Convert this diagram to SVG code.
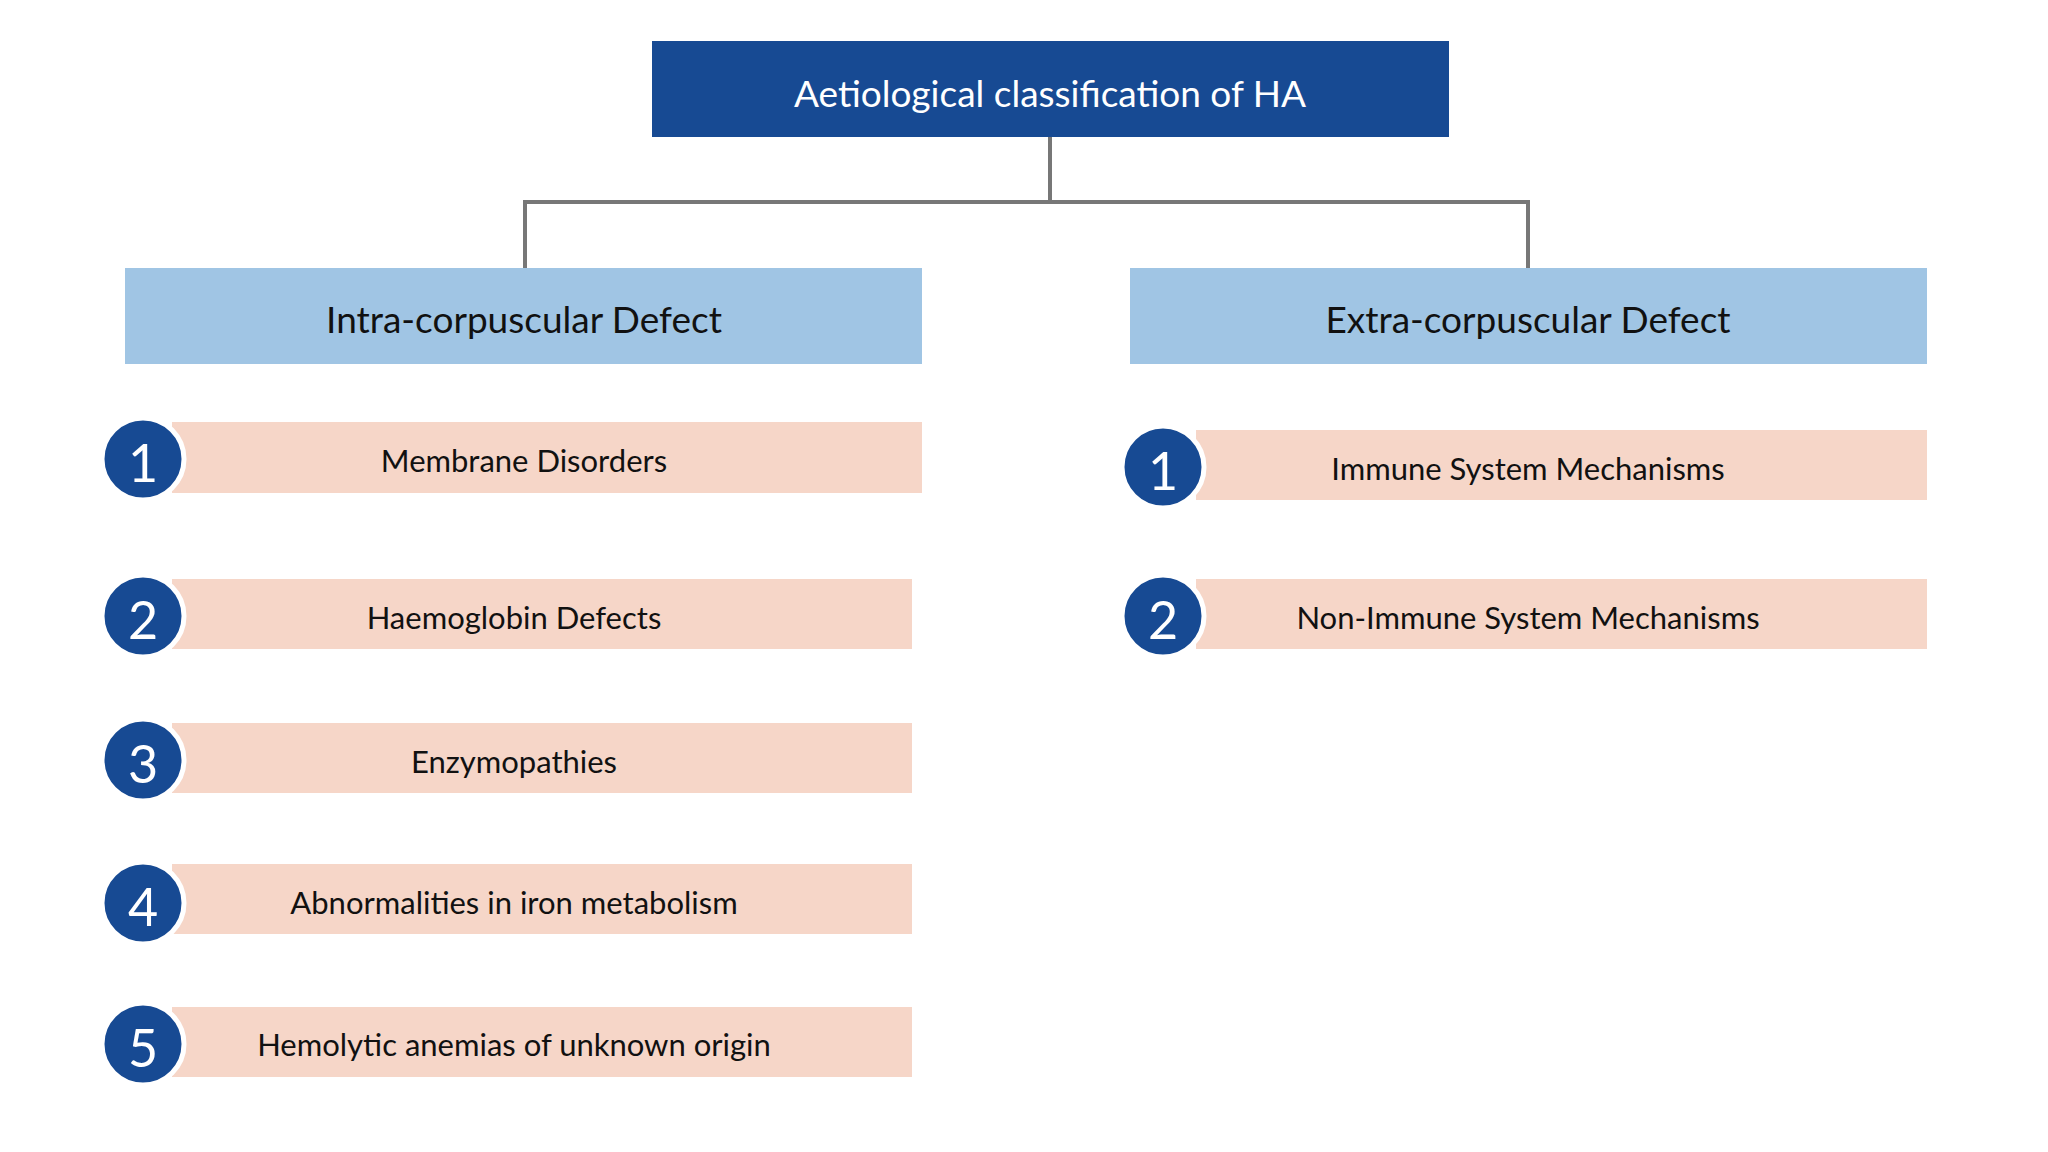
<svg xmlns="http://www.w3.org/2000/svg" width="2048" height="1152" viewBox="0 0 2048 1152">
<style>
text{font-family:Lato,"Open Sans",sans-serif;text-anchor:middle;dominant-baseline:central;fill:#111}
.hdr{fill:#a0c5e4}.bar{fill:#f6d6c8}.num{fill:#174a93;stroke:#fff;stroke-width:5}
.nt{fill:#fff;font-size:52px}.it{font-size:31px}.h{font-size:37px}
</style>
<rect width="2048" height="1152" fill="#fff"/>
<g id="connectors" fill="none" stroke="#777" stroke-width="4">
<path d="M1050 137V202M525 270V202H1528V270"/>
</g>
<g id="title"><rect x="652" y="41" width="797" height="96" fill="#174a93"/><text x="1050" y="92" class="h" style="fill:#fff">Aetiological classification of HA</text></g>
<g id="intra"><rect class="hdr" x="125" y="268" width="797" height="96"/><text x="524" y="318" class="h">Intra-corpuscular Defect</text></g>
<g id="extra"><rect class="hdr" x="1130" y="268" width="797" height="96"/><text x="1528" y="318" class="h">Extra-corpuscular Defect</text></g>
<g id="l1"><rect class="bar" x="172" y="422" width="750" height="71"/><circle class="num" cx="143" cy="459" r="41"/><text class="nt" x="143" y="462">1</text><text class="it" x="524" y="460">Membrane Disorders</text></g>
<g id="l2"><rect class="bar" x="172" y="579" width="740" height="70"/><circle class="num" cx="143" cy="616" r="41"/><text class="nt" x="143" y="619">2</text><text class="it" x="514" y="617">Haemoglobin Defects</text></g>
<g id="l3"><rect class="bar" x="172" y="723" width="740" height="70"/><circle class="num" cx="143" cy="760" r="41"/><text class="nt" x="143" y="763">3</text><text class="it" x="514" y="761">Enzymopathies</text></g>
<g id="l4"><rect class="bar" x="172" y="864" width="740" height="70"/><circle class="num" cx="143" cy="903" r="41"/><text class="nt" x="143" y="906">4</text><text class="it" x="514" y="902">Abnormalities in iron metabolism</text></g>
<g id="l5"><rect class="bar" x="172" y="1007" width="740" height="70"/><circle class="num" cx="143" cy="1044" r="41"/><text class="nt" x="143" y="1047">5</text><text class="it" x="514" y="1044">Hemolytic anemias of unknown origin</text></g>
<g id="r1"><rect class="bar" x="1196" y="430" width="731" height="70"/><circle class="num" cx="1163" cy="467" r="41"/><text class="nt" x="1163" y="470">1</text><text class="it" x="1528" y="468">Immune System Mechanisms</text></g>
<g id="r2"><rect class="bar" x="1196" y="579" width="731" height="70"/><circle class="num" cx="1163" cy="616" r="41"/><text class="nt" x="1163" y="619">2</text><text class="it" x="1528" y="617">Non-Immune System Mechanisms</text></g>
</svg>
